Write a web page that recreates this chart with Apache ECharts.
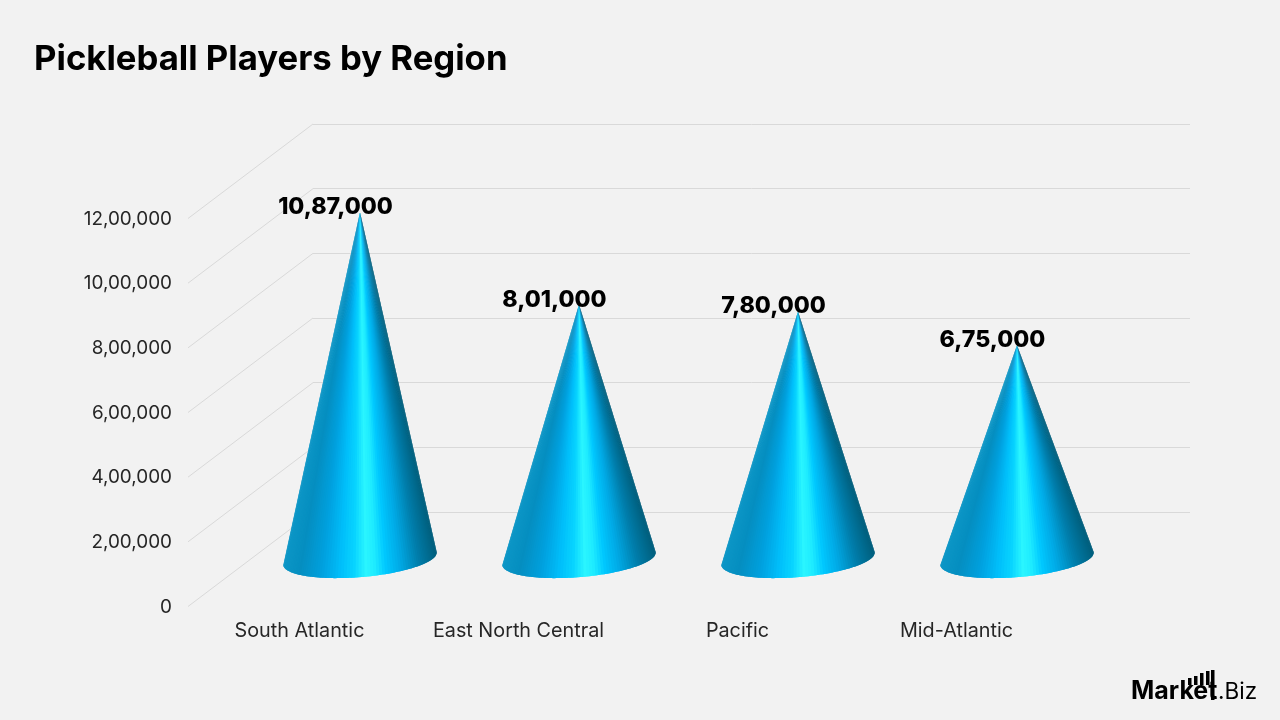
<!DOCTYPE html>
<html>
<head>
<meta charset="utf-8">
<style>html,body{margin:0;padding:0;background:#f2f2f2}#c{width:1280px;height:720px}</style>
<script src="https://cdn.jsdelivr.net/npm/echarts@6/dist/echarts.min.js"></script>
</head>
<body>
<div id="c"></div>
<script>
const categories = ['South Atlantic', 'East North Central', 'Pacific', 'Mid-Atlantic'];
const players = [1087000, 801000, 780000, 675000];
const valueLabels = ['10,87,000', '8,01,000', '7,80,000', '6,75,000'];
const yTicks = [0, 200000, 400000, 600000, 800000, 1000000, 1200000];
const yTickLabels = ['0', '2,00,000', '4,00,000', '6,00,000', '8,00,000', '10,00,000', '12,00,000'];

const FONT = 'Inter';
const labelDrop = 2;
const frontGrid = { left: 190, top: 219, width: 876, height: 388 };
const backGrid = { left: 313, top: 124, width: 877, height: 388 };
const coneGrid = { left: 250.5, top: 175.6, width: 876, height: 388 };
const shade = [
  [0.00, [12, 150, 198]], [0.10, [5, 142, 192]], [0.24, [0, 160, 222]], [0.36, [0, 190, 250]],
  [0.45, [8, 212, 255]], [0.53, [42, 245, 255]], [0.59, [30, 235, 255]], [0.66, [0, 200, 255]], [0.76, [0, 168, 228]],
  [0.88, [0, 125, 170]], [1.00, [0, 94, 124]]
];
function shadeAt(u) {
  for (let i = 1; i < shade.length; i++) {
    if (u <= shade[i][0]) {
      const a = shade[i - 1], b = shade[i], k = (u - a[0]) / (b[0] - a[0]);
      const c = a[1].map((v, j) => Math.round(v + (b[1][j] - v) * k));
      return 'rgb(' + c.join(',') + ')';
    }
  }
  return 'rgb(0,94,124)';
}

function renderCone(params, api) {
  const tip = api.coord([api.value(0), api.value(1)]);
  const zero = api.coord([api.value(0), 0]);
  const rx = 77, ry = 18.5, rot = -4.8 * Math.PI / 180;
  const cx = zero[0], cy = zero[1] - 5;
  const cr = Math.cos(rot), sr = Math.sin(rot);
  const pt = t => {
    const a = rx * Math.cos(t), b = ry * Math.sin(t);
    return [cx + a * cr - b * sr, cy + a * sr + b * cr];
  };
  const N = 80, children = [];
  for (let i = 0; i < N; i++) {
    const t0 = Math.PI * (1 - i / N);
    const t1 = Math.PI * (1 - (i + 1) / N);
    const t2 = i === N - 1 ? t1 : Math.PI * (1 - (i + 2) / N);
    const tm = (t0 + t1) / 2;
    const col = shadeAt((1 + Math.cos(tm)) / 2);
    children.push({
      type: 'polygon',
      shape: { points: [tip, pt(t0), pt(t1), pt(t2)] },
      style: { fill: col }
    });
  }
  children.push({
    type: 'text',
    style: {
      x: tip[0] - 24.5, y: tip[1] - 5, text: valueLabels[params.dataIndex],
      fill: '#000', font: '800 23.2px ' + FONT, align: 'center', verticalAlign: 'middle'
    },
    z2: 10
  });
  return { type: 'group', children };
}

function renderDepthLine(params, api) {
  const p = api.coord([0, api.value(1)]);
  const x = p[0] - api.size([1, 0])[0] / 2;
  return {
    type: 'line',
    shape: { x1: x - 2, y1: p[1] - labelDrop + 1.5, x2: x + backGrid.left - frontGrid.left, y2: p[1] + backGrid.top - frontGrid.top },
    style: { stroke: '#d9d9d9', lineWidth: 1 }
  };
}

const chart = echarts.init(document.getElementById('c'), null, { renderer: 'canvas' });
chart.setOption({
  animation: false,
  backgroundColor: '#f2f2f2',
  title: {
    text: 'Pickleball Players by Region', left: 34, top: 37, padding: [5, 0, 0, 0],
    textStyle: { color: '#000', fontFamily: FONT, fontWeight: 'bold', fontSize: 34.7 }
  },
  grid: [frontGrid, backGrid, coneGrid],
  xAxis: [
    { gridIndex: 0, type: 'category', data: categories, axisLine: { show: false }, axisTick: { show: false },
      axisLabel: { color: '#262626', fontFamily: FONT, fontSize: 19.8, margin: 14, interval: 0, hideOverlap: false } },
    { gridIndex: 1, type: 'category', data: categories, show: false },
    { gridIndex: 2, type: 'category', data: categories, show: false }
  ],
  yAxis: [
    { gridIndex: 0, type: 'value', min: 0, max: 1200000, interval: 200000, splitLine: { show: false },
      axisLine: { show: false }, axisTick: { show: false },
      axisLabel: { color: '#262626', fontFamily: FONT, fontSize: 18.9, margin: 18,
        formatter: v => yTickLabels[yTicks.indexOf(v)] } },
    { gridIndex: 1, type: 'value', min: 0, max: 1200000, interval: 200000, axisLabel: { show: false },
      axisLine: { show: false }, axisTick: { show: false },
      splitLine: { show: true, lineStyle: { color: '#d9d9d9', width: 1 } } },
    { gridIndex: 2, type: 'value', min: 0, max: 1200000, interval: 200000, show: false }
  ],
  series: [
    { type: 'custom', xAxisIndex: 0, yAxisIndex: 0, z: 1, silent: true, clip: false,
      data: yTicks.map(v => [0, v]), encode: { x: 0, y: 1 }, renderItem: renderDepthLine },
    { type: 'custom', xAxisIndex: 2, yAxisIndex: 2, z: 5, silent: true, clip: false,
      data: players.map((v, i) => [i, v]), encode: { x: 0, y: 1 }, renderItem: renderCone }
  ],
  graphic: [
    { type: 'text', left: 1131, top: 679, style: { text: 'Market', fill: '#000', font: 'bold 25px ' + FONT } },
    { type: 'text', left: 1218, top: 681, style: { text: '.Biz', fill: '#000', font: '22.5px ' + FONT } },
    { type: 'rect', shape: { x: 1188, y: 678, width: 3.5, height: 7 }, style: { fill: '#000' } },
    { type: 'rect', shape: { x: 1194, y: 676, width: 3.5, height: 9 }, style: { fill: '#000' } },
    { type: 'rect', shape: { x: 1200, y: 673, width: 3.5, height: 12 }, style: { fill: '#000' } },
    { type: 'rect', shape: { x: 1206, y: 671, width: 3.5, height: 14 }, style: { fill: '#000' } },
    { type: 'rect', shape: { x: 1211, y: 670, width: 3.5, height: 30 }, style: { fill: '#000' } }
  ]
});
</script>
</body>
</html>
